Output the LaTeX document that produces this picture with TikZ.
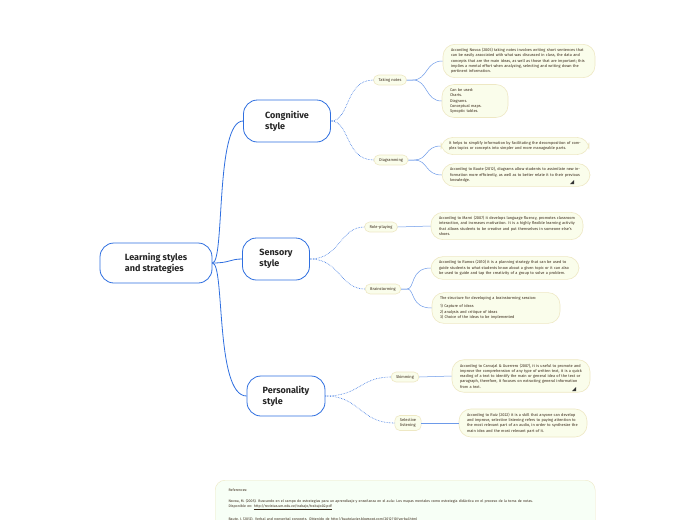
\documentclass[tikz,border=0pt]{standalone}
\usepackage{fontspec}
\setmainfont{Fira Sans}
\definecolor{br}{HTML}{2F6FE0}
\definecolor{lf}{HTML}{FAFDEB}
\definecolor{lb}{HTML}{EEE8C4}
\definecolor{tx}{HTML}{3A2A1A}
\begin{document}
\begin{tikzpicture}[x=1pt,y=-1pt,
 main/.style={draw=br,line width=0.8pt,fill=white,rounded corners=14pt,align=left,font=\fontsize{9}{11}\selectfont\bfseries,text=black!85},
 sub/.style={draw=lb,line width=0.6pt,fill=lf,rounded corners=5pt,font=\fontsize{4}{5}\selectfont,text=tx,align=center,inner xsep=5pt,inner ysep=3pt},
 leaf/.style={draw=lb,line width=0.6pt,fill=lf,rounded corners=12pt,align=left,font=\fontsize{3.9}{5.3}\selectfont,text=tx,inner xsep=8pt,inner ysep=4pt},
 l1/.style={br,line width=0.8pt},
 l2/.style={br,line width=0.6pt,densely dotted},
 l3/.style={br!70,line width=0.5pt}]
\useasboundingbox (0,0) rectangle (697,520);
\fill[white] (0,0) rectangle (697,520);
\node[main,minimum width=112pt,minimum height=40pt] (root) at (156,263) {Learning styles\\and strategies};
\node[main,minimum width=87pt,minimum height=42pt] (cog) at (287,121) {Congnitive\\style};
\node[main,minimum width=67pt,minimum height=42pt] (sen) at (276,259) {Sensory\\style};
\node[main,minimum width=78pt,minimum height=40pt] (per) at (286,396) {Personality\\style};
\draw[l1] (root.east) .. controls (225,263) and (215,121) .. (cog.west);
\draw[l1] (root.east) .. controls (230,263) and (230,259) .. (sen.west);
\draw[l1] (root.east) .. controls (225,263) and (215,396) .. (per.west);
\node[sub] (tn) at (390,80) {Taking notes};
\node[sub] (dg) at (391,160) {Diagramming};
\node[sub] (rp) at (381,227) {Role-playing};
\node[sub] (bs) at (383,289) {Brainstorming};
\node[sub] (sk) at (405,377) {Skimming};
\node[sub] (sl) at (408,423) {Selective\\listening};
\draw[l2] (cog.east) .. controls (350,121) and (345,80) .. (tn.west);
\draw[l2] (cog.east) .. controls (350,121) and (345,160) .. (dg.west);
\draw[l2] (sen.east) .. controls (340,259) and (340,227) .. (rp.west);
\draw[l2] (sen.east) .. controls (340,259) and (340,289) .. (bs.west);
\draw[l2] (per.east) .. controls (360,396) and (360,377) .. (sk.west);
\draw[l2] (per.east) .. controls (360,396) and (360,423) .. (sl.west);
\node[leaf,text width=136pt] (a1) at (519,61) {According Novoa (2005) taking notes involves writing short sentences that can be easily associated with what was discussed in class, the data and concepts that are the main ideas, as well as those that are important; this implies a mental effort when analyzing, selecting and writing down the pertinent information.};
\node[leaf,text width=50pt] (a2) at (475,101) {Can be used:\\Charts.\\Diagrams.\\Conceptual maps.\\Synoptic tables.};
\node[leaf,text width=132pt] (a3) at (515,146) {It helps to simplify information by facilitating the decomposition of complex topics or concepts into simpler and more manageable parts.};
\node[leaf,text width=132pt] (a4) at (516,175) {According to Baute (2012), diagrams allow students to assimilate new information more efficiently, as well as to better relate it to their previous knowledge.};
\node[leaf,text width=136pt] (a5) at (507,226) {According to Marni (2007) it develops language fluency, promotes classroom interaction, and increases motivation. It is a highly flexible learning activity that allows students to be creative and put themselves in someone else's shoes.};
\node[leaf,text width=132pt] (a6) at (505,268) {According to Ramos (2010) it is a planning strategy that can be used to guide students to what students know about a given topic or it can also be used to guide and tap the creativity of a group to solve a problem.};
\node[leaf,text width=112pt] (a7) at (496,308) {The structure for developing a brainstorming session:\\[3pt]1) Capture of ideas\\2) analysis and critique of ideas\\3) Choice of the ideas to be implemented};
\node[leaf,text width=122pt] (a8) at (521,376) {According to Carvajal \& Guerrero (2007), it is useful to promote and improve the comprehension of any type of written text, it is a quick reading of a text to identify the main or general idea of the text or paragraph, therefore, it focuses on extracting general information from a text.};
\node[leaf,text width=112pt] (a9) at (523,423) {According to Ruiz (2022) it is a skill that anyone can develop and improve, selective listening refers to paying attention to the most relevant part of an audio, in order to synthesize the main idea and the most relevant part of it.};
\fill[black!80] (570,184) -- (574,184) -- (574,180) -- cycle;
\fill[black!80] (572,391) -- (576,391) -- (576,387) -- cycle;
\draw[l3] (tn.east) -- ++(6,0) .. controls (428,80) and (425,61) .. (a1.west);
\draw[l3] (tn.east) -- ++(6,0) .. controls (428,80) and (425,101) .. (a2.west);
\draw[l3] (dg.east) -- ++(6,0) .. controls (428,160) and (425,146) .. (a3.west);
\draw[l3] (dg.east) -- ++(6,0) .. controls (428,160) and (425,175) .. (a4.west);
\draw[l3] (rp.east) -- (a5.west);
\draw[l3] (bs.east) -- ++(6,0) .. controls (415,289) and (410,268) .. (a6.west);
\draw[l3] (bs.east) -- ++(6,0) .. controls (415,289) and (410,308) .. (a7.west);
\draw[l3] (sk.east) -- (a8.west);
\draw[l3] (sl.east) -- (a9.west);
\node[draw=lb,fill=lf!70!green!10,rounded corners=10pt,minimum width=380pt,minimum height=70pt,anchor=north west] (ref) at (215,480) {};
\node[anchor=north west,font=\fontsize{3.6}{5}\selectfont,text=tx,align=left,text width=360pt] (rt) at (225,485) {References:\\[6pt]Novoa, M. (2005). Buscando en el campo de estrategias para un aprendizaje y ense\~nanza en el aula: Los mapas mentales como estrategia did\'actica en el proceso de la toma de notas.\\Disponible en: \underline{http://revistas.um.edu.ve/trabajo/trabajo02.pdf}\\[6pt]Baute, J. (2012). Verbal and nonverbal concepts. Obtenido de http://bautejavier.blogspot.com/2012/10/verbal.html};
\end{tikzpicture}
\end{document}
